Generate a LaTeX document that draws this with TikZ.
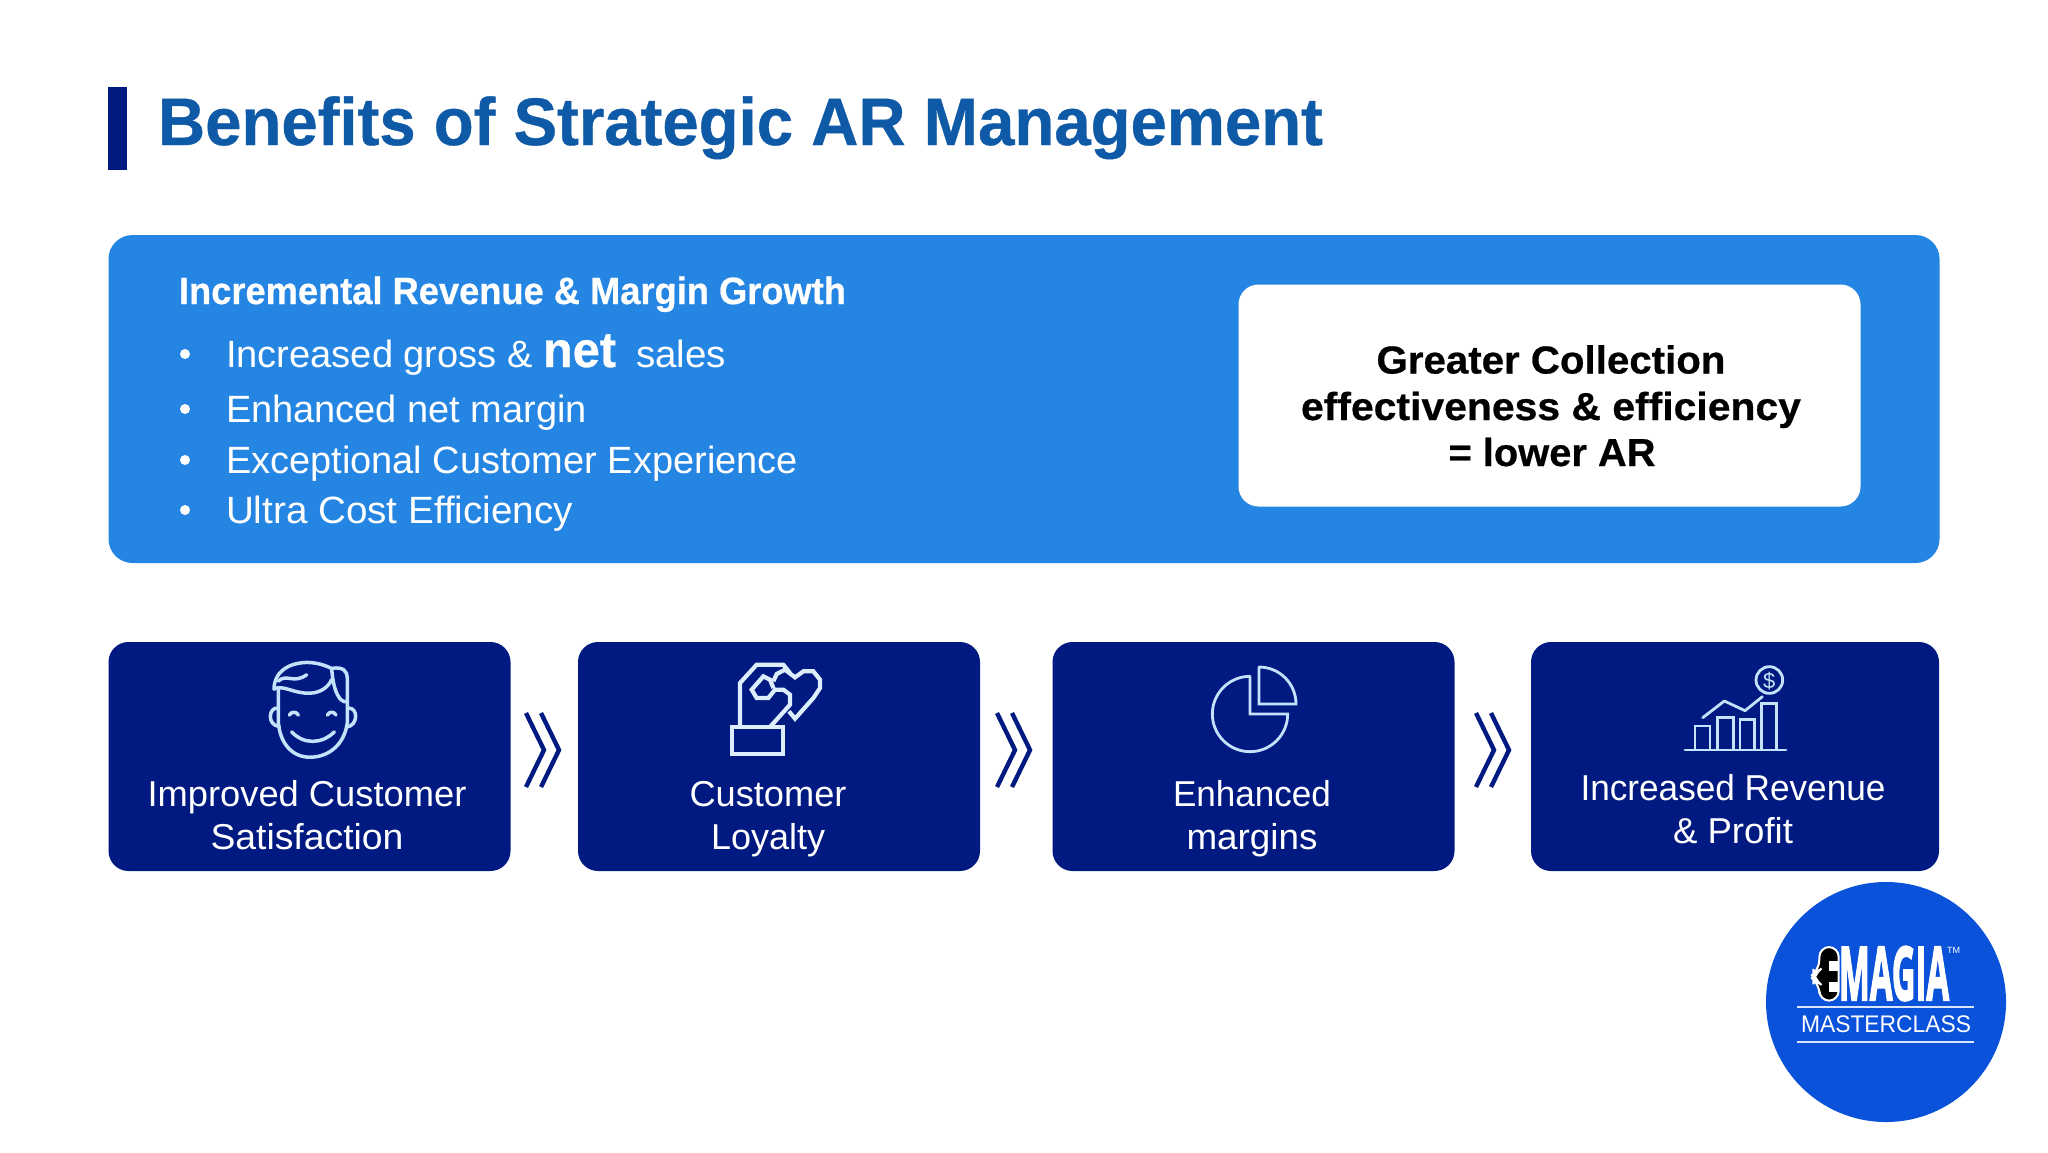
\documentclass[tikz,border=0pt]{standalone}
\usepackage{fontspec}
\setmainfont[BoldFeatures={FakeBold=0.6}]{Liberation Sans}
\newfontfamily\logofont[FakeBold=3]{Open Sans Bold}
\usetikzlibrary{calc}
\definecolor{navy}{HTML}{001A82}
\definecolor{panelblue}{HTML}{2585E3}
\definecolor{titleblue}{HTML}{0F5AA6}
\definecolor{circleblue}{HTML}{0B52DA}
\definecolor{iconblue}{HTML}{C4E2FA}
\newsavebox\fitbox
% set text to a target width in px (1px = 0.5pt), stretching horizontally only
\newcommand\fitw[2]{\sbox\fitbox{#2}\pgfmathsetmacro\fitr{#1*0.5/\the\wd\fitbox}\scalebox{\fitr}[1]{\usebox\fitbox}}
\newcommand\pxfont[1]{\fontsize{#1}{#1}\selectfont}
\tikzset{
  tx/.style={inner sep=0pt,outer sep=0pt,text=white},
  txw/.style={tx,anchor=base west},
  txc/.style={tx,anchor=base},
  navybox/.style={fill=navy,rounded corners=10pt,minimum width=201pt,minimum height=114.5pt,inner sep=0pt},
  chevline/.style={draw=navy,line width=2.2pt,miter limit=10},
  icon/.style={draw=iconblue,line width=1.4pt,line cap=round,line join=round},
  iconface/.style={icon,line width=1.75pt},
  iconthick/.style={draw=iconblue!60!white,line width=2.1pt,line join=miter},
  bulletdot/.style={circle,fill=white,inner sep=0pt,minimum size=5pt},
}
\newcommand\chev[1]{%
  \draw[chevline] ([shift={(-17,-37)}]#1) -- ([shift={(1,0)}]#1) -- ([shift={(-17,37)}]#1);
  \draw[chevline] ([shift={(-2,-37)}]#1) -- ([shift={(16,0)}]#1) -- ([shift={(-2,37)}]#1);
}
\begin{document}
\begin{tikzpicture}[x=0.5pt,y=-0.5pt]
\useasboundingbox (0,0) rectangle (2048,1152);
\fill[white] (0,0) rectangle (2048,1152);
% title
\fill[navy] (108,87) rectangle (127,170);
\node[txw,text=titleblue] (title) at (158,145) {\fitw{1165}{\pxfont{33.6}\bfseries Benefits of Strategic AR Management}};
% panel
\node[fill=panelblue,rounded corners=12pt,minimum width=915.5pt,minimum height=164pt,inner sep=0pt] (panel) at (1024,399) {};
\node[txw] (head) at (179,304) {\fitw{667}{\pxfont{19}\bfseries Incremental Revenue \& Margin Growth}};
\node[bulletdot] (d1) at (185,354) {};
\node[bulletdot] (d2) at (185,409) {};
\node[bulletdot] (d3) at (185,460) {};
\node[bulletdot] (d4) at (185,510) {};
\node[txw] (l1a) at (226,367) {\fitw{307}{\pxfont{19}Increased gross \&}};
\node[txw] (l1b) at (543,367) {\fitw{73}{\pxfont{25}\bfseries net}};
\node[txw] (l1c) at (636,367) {\fitw{90}{\pxfont{19}sales}};
\node[txw] (l2) at (226,422) {\fitw{361}{\pxfont{19}Enhanced net margin}};
\node[txw] (l3) at (226,473) {\fitw{572}{\pxfont{19}Exceptional Customer Experience}};
\node[txw] (l4) at (226,523) {\fitw{347}{\pxfont{19}Ultra Cost Efficiency}};
% white box
\node[fill=white,rounded corners=10pt,minimum width=311pt,minimum height=111pt,inner sep=0pt] (wb) at (1549.5,395.5) {};
\node[txc,text=black] (w1) at (1551,373.5) {\fitw{349}{\pxfont{19.5}\bfseries Greater Collection}};
\node[txc,text=black] (w2) at (1551,420) {\fitw{500}{\pxfont{19.5}\bfseries effectiveness \& efficiency}};
\node[txc,text=black] (w3) at (1552,466) {\fitw{207}{\pxfont{19.5}\bfseries = lower AR}};
% boxes
\node[navybox] (b1) at (309.5,756.5) {};
\node[navybox] (b2) at (779,756.5) {};
\node[navybox] (b3) at (1253.5,756.5) {};
\node[navybox,minimum width=204pt] (b4) at (1735,756.5) {};
\node[txc] (t1a) at (307,806) {\fitw{319}{\pxfont{18}Improved Customer}};
\node[txc] (t1b) at (307,849) {\fitw{193}{\pxfont{18}Satisfaction}};
\node[txc] (t2a) at (768,806) {\fitw{157}{\pxfont{18}Customer}};
\node[txc] (t2b) at (768,849) {\fitw{114}{\pxfont{18}Loyalty}};
\node[txc] (t3a) at (1252,806) {\fitw{158}{\pxfont{18}Enhanced}};
\node[txc] (t3b) at (1252,849) {\fitw{131}{\pxfont{18}margins}};
\node[txc] (t4a) at (1733,800) {\fitw{305}{\pxfont{18}Increased Revenue}};
\node[txc] (t4b) at (1733,843) {\fitw{120}{\pxfont{18}\& Profit}};
% chevrons
\coordinate (c1) at (543,750);
\coordinate (c2) at (1014,750);
\coordinate (c3) at (1493,750);
\chev{c1}\chev{c2}\chev{c3}
% face icon
\begin{scope}[shift={(250,651)},x=0.16667pt,y=-0.1585pt]
\draw[iconface] (72,120) .. controls (72,70) and (110,38) .. (170,36) .. controls (200,36) and (225,45) .. (245,55) .. controls (280,48) and (292,65) .. (292,85) -- (292,160) .. controls (270,165) and (250,130) .. (245,55);
\draw[iconface] (72,120) .. controls (100,105) and (130,135) .. (180,133) .. controls (210,132) and (235,115) .. (245,90);
\draw[iconface] (85,95) .. controls (110,70) and (130,105) .. (170,75);
\draw[iconface] (85,115) -- (85,225) .. controls (90,290) and (125,335) .. (180,335) .. controls (240,335) and (285,290) .. (292,225) -- (292,160);
\draw[iconface] (85,180) .. controls (55,175) and (50,235) .. (88,238);
\draw[iconface] (295,180) .. controls (325,178) and (325,235) .. (290,240);
\draw[iconface] (118,202) .. controls (125,190) and (138,190) .. (145,202);
\draw[iconface] (232,202) .. controls (238,190) and (252,190) .. (258,202);
\draw[iconface] (125,255) .. controls (160,295) and (215,295) .. (253,255);
\end{scope}
% hand with heart icon
\begin{scope}[shift={(715,648)},x=0.16667pt,y=-0.16667pt]
\draw[iconthick] (50,237) rectangle (205,318);
\draw[iconthick] (75,237) -- (75,105) -- (125,50) -- (205,50) -- (225,75);
\draw[iconthick] (165,237) -- (225,170) -- (225,140) -- (205,125) -- (180,125) -- (160,150) -- (125,150) -- (110,125) -- (145,85) -- (165,95) -- (175,120);
\draw[iconthick] (175,100) -- (185,78) -- (210,65) -- (240,88) -- (265,70) -- (295,70) -- (315,95) -- (315,120) -- (295,150) -- (240,212) -- (222,190);
\end{scope}
% pie icon
\begin{scope}[shift={(1195,649)},x=0.16667pt,y=-0.16667pt]
\draw[icon,line join=miter] (165,85) -- (165,195) -- (278,195) arc[start angle=0,end angle=270,radius=113];
\draw[icon,line join=miter] (192,55) -- (192,165) -- (303,165) arc[start angle=0,end angle=-90,radius=111];
\end{scope}
% chart icon
\begin{scope}[shift={(1675,650)},x=0.16667pt,y=-0.16667pt]
\draw[icon] (30,300) -- (333,300);
\draw[icon,line join=miter,line cap=butt] (60,300) -- (60,228) -- (105,228) -- (105,300);
\draw[icon,line join=miter,line cap=butt] (127,300) -- (127,203) -- (175,203) -- (175,300);
\draw[icon,line join=miter,line cap=butt] (195,300) -- (195,208) -- (238,208) -- (238,300);
\draw[icon,line join=miter,line cap=butt] (260,300) -- (260,160) -- (305,160) -- (305,300);
\draw[icon] (83,203) -- (148,153) -- (210,182) -- (262,140);
\draw[icon] (283,90) circle[radius=40];
\node[tx,text=iconblue] (dollar) at (283,92) {\pxfont{11}\$};
\end{scope}
% logo
\node[circle,fill=circleblue,minimum size=120pt,inner sep=0pt] (logo) at (1886,1002) {};
\begin{scope}[shift={(1800,935)},x=0.16667pt,y=-0.16667pt]
\path[fill=black,draw=white,line width=1pt,rounded corners=5pt] (58,36) -- (116,36) -- (116,197) -- (58,197) -- (58,145) -- (40,132) -- (40,118) -- (58,105) -- cycle;
\fill[white] (88,78) rectangle (118,108);
\fill[white] (88,142) rectangle (118,172);
\end{scope}
\node[txw] (magia) at (1839,1000) {\fitw{110}{\pxfont{37}\logofont MAGIA}};
\node[txw] (tm) at (1947,953) {\pxfont{4.5}TM};
\draw[white!85!circleblue,line width=1pt] (1797,1007) -- (1974,1007);
\draw[white!85!circleblue,line width=1pt] (1797,1042) -- (1974,1042);
\node[txw] (mc) at (1801,1032) {\fitw{170}{\pxfont{12}MASTERCLASS}};
\end{tikzpicture}
\end{document}
